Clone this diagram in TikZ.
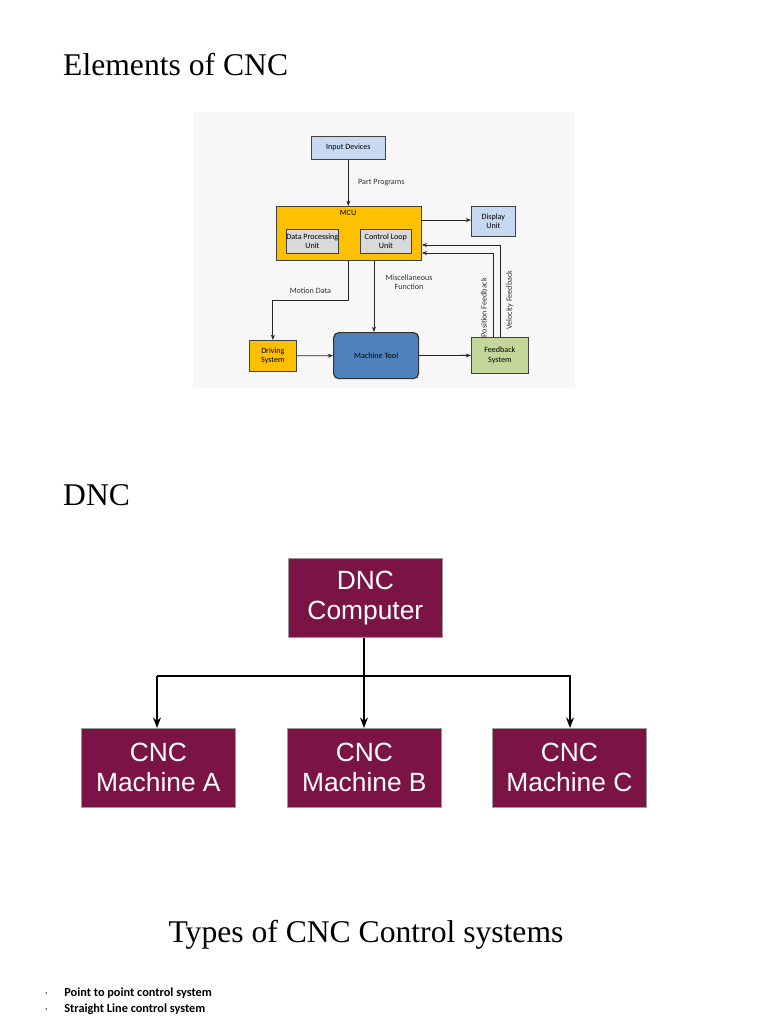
\documentclass[tikz,border=0pt]{standalone}
\usepackage{fontspec}
\setmainfont{Liberation Serif}
\newfontfamily\mysans{Liberation Sans}
\newfontfamily\mycal{Carlito}
\usetikzlibrary{arrows.meta}
\definecolor{maroon}{HTML}{7B1444}
\definecolor{lblue}{HTML}{C6D9F1}
\definecolor{mcuor}{HTML}{FFC000}
\definecolor{lgreen}{HTML}{C4D79B}
\definecolor{mtblue}{HTML}{4F81BD}
\begin{document}
\begin{tikzpicture}[x=0.02cm,y=-0.02cm,
  sm/.style={draw=black!75,font=\mycal\fontsize{4.6}{5.2}\selectfont,align=center,inner sep=0,anchor=north west},
  big/.style={fill=maroon,draw=black!40,text=white,font=\mysans\fontsize{15}{17}\selectfont,align=center,inner sep=0,anchor=north west,minimum width=154*0.02cm,minimum height=79*0.02cm},
  ar/.style={-{Stealth[length=3pt]},black!85,line width=0.5pt},
  lab/.style={font=\mycal\fontsize{4.6}{5.2}\selectfont,text=black!80},
  title/.style={font=\fontsize{18}{20}\selectfont,anchor=west}]
\useasboundingbox (0,0) rectangle (768,1024);
\fill[white] (0,0) rectangle (768,1024);
\node[title] (t1) at (57,65) {Elements of CNC};
\node[title] (t2) at (57,495) {DNC};
\node[title,anchor=center] (t3) at (366,935) {Types of CNC Control systems};
% CNC elements diagram
\fill[black!3] (193,112) rectangle (575,388);
\node[sm,fill=lblue,minimum width=74*0.02cm,minimum height=23*0.02cm] (in) at (311,136) {Input Devices};
\node[sm,fill=mcuor,minimum width=145*0.02cm,minimum height=54*0.02cm] (mcu) at (276,206) {};
\node[lab,text=black] (mcul) at (348,213) {MCU};
\node[sm,fill=black!15,minimum width=52*0.02cm,minimum height=24*0.02cm] (dpu) at (286,229) {Data Processing\\Unit};
\node[sm,fill=black!15,minimum width=51*0.02cm,minimum height=24*0.02cm] (clu) at (360,229) {Control Loop\\Unit};
\node[sm,fill=lblue,minimum width=44*0.02cm,minimum height=30*0.02cm] (disp) at (471,206) {Display\\Unit};
\node[sm,fill=mcuor,minimum width=47*0.02cm,minimum height=31*0.02cm] (drv) at (249,340) {Driving\\System};
\node[sm,fill=mtblue,rounded corners=3pt,draw=black!80,line width=0.7pt,minimum width=85*0.02cm,minimum height=46*0.02cm] (mt) at (333,332) {Machine Tool};
\node[sm,fill=lgreen,minimum width=57*0.02cm,minimum height=36*0.02cm] (fb) at (471,337) {Feedback\\System};
\coordinate (md) at (348,300);
\draw[ar] (in) -- node[lab,right=2pt] {Part Programs} (mcu.north -| in);
\draw[ar] (mcu.east |- 0,220) -- (disp.west |- 0,220);
\draw[ar] (mcu.south -| md) -- (md) -- node[lab,above] {Motion Data} (md -| drv) -- (drv);
\draw[ar] (mcu.south -| 374,0) -- node[lab,right=3pt,pos=0.3,align=center] {Miscellaneous\\Function} (mt.north -| 374,0);
\draw[ar] (drv) -- (mt);
\draw[ar] (mt) -- (fb);
\draw[ar] (fb.north -| 493,0) -- node[lab,rotate=90,above,pos=0.35] {Position Feedback} (493,253) -- (mcu.east |- 0,253);
\draw[ar] (fb.north -| 500,0) -- node[lab,rotate=90,below,pos=0.4] {Velocity Feedback} (500,245) -- (mcu.east |- 0,245);
% DNC
\node[big] (dnc) at (288,558) {DNC\\Computer};
\node[big] (ca) at (81,728) {CNC\\Machine A};
\node[big] (cb) at (287,728) {CNC\\Machine B};
\node[big] (cc) at (492,728) {CNC\\Machine C};
\coordinate (j) at (364,676);
\draw[line width=1.3pt] (dnc.south -| j) -- (j);
\draw[-{Stealth[length=6pt]},line width=1.3pt] (j -| 157,0) -- (j -| 570,0) -- (cc.north -| 570,0);
\draw[-{Stealth[length=6pt]},line width=1.3pt] (j -| 157,0) -- (ca.north -| 157,0);
\draw[-{Stealth[length=6pt]},line width=1.3pt] (j) -- (cb.north -| j);
% bullets
\node[font=\mycal\bfseries\fontsize{7}{9}\selectfont,anchor=north west,align=left,inner sep=0] (bl) at (44,988) {$\cdot$\hspace{9pt}Point to point control system\\$\cdot$\hspace{9pt}Straight Line control system};
\end{tikzpicture}
\end{document}
